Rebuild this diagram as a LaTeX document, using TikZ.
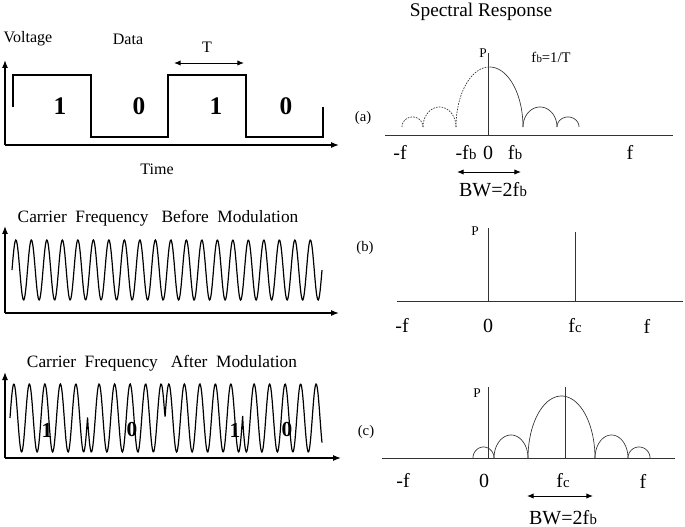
\documentclass[tikz,border=0pt]{standalone}
\usepackage{fontspec}
\setmainfont{Liberation Serif}
\usetikzlibrary{arrows.meta}
\newcommand\myfb{f\kern0.2pt\scalebox{0.74}{b}}
\newcommand\myfc{f\kern0.2pt\scalebox{0.74}{c}}
\newcommand\lobe[5]{\draw[#5] plot[domain=0:180,samples=40] ({#1+(#2-#1)/2*(1-cos(\x))},{#3-#4*sin(\x)});}
\begin{document}
\begin{tikzpicture}[x=0.75pt,y=-0.75pt,
  lbl/.style={inner sep=0pt,font=\fontsize{12}{14}\selectfont},
  title/.style={inner sep=0pt,font=\fontsize{13}{15}\selectfont},
  tick/.style={inner sep=0pt,anchor=base,font=\fontsize{15}{17}\selectfont},
  small/.style={inner sep=0pt,font=\fontsize{10}{12}\selectfont},
  bit/.style={inner sep=0pt,font=\fontsize{19}{21}\selectfont\bfseries},
  bitc/.style={inner sep=0pt,font=\fontsize{16}{18}\selectfont\bfseries},
  axis/.style={line width=0.9pt,-{Latex[length=6pt,width=4.5pt]}},
  wave/.style={line width=0.9pt},
  spec/.style={line width=0.5pt,black!80},
  dsh/.style={line width=0.5pt,black!80,dash pattern=on 1.2pt off 0.9pt},
  dbl/.style={line width=0.7pt,{Latex[length=5pt,width=4pt]}-{Latex[length=5pt,width=4pt]}}]
\useasboundingbox (0,0) rectangle (685,527);

% ---------- (a) left: data ----------
\coordinate (aO) at (5,145);
\coordinate (aY) at (5,60);
\coordinate (aX) at (339,145);
\draw[axis] (aO) -- (aY);
\draw[axis] (aO) -- (aX);
\draw[wave] (13,107) -- (13,75) -- (91,75) -- (91,137) -- (168,137) -- (168,75)
  -- (246,75) -- (246,137) -- (323,137) -- (323,107);
\node[lbl] (volt) at (28,39) {Voltage};
\node[lbl] (data) at (128,39) {Data};
\node[lbl] (tlab) at (207,47) {T};
\coordinate (tL) at (174,63);
\coordinate (tR) at (244,63);
\draw[dbl] (tL) -- (tR);
\node[lbl] (time) at (157,169) {Time};
\node[bit] (b1) at (60,106) {1};
\node[bit] (b2) at (139,106) {0};
\node[bit] (b3) at (216,106) {1};
\node[bit] (b4) at (286,106) {0};

% ---------- (a) right: spectrum ----------
\node[inner sep=0pt,font=\fontsize{14.5}{16}\selectfont] (spr) at (481,12) {Spectral Response};
\coordinate (sa0) at (385,135);
\coordinate (sa1) at (673,135);
\draw[spec] (sa0) -- (sa1);
\coordinate (pa0) at (488,135);
\coordinate (pa1) at (488,53);
\draw[spec] (pa0) -- (pa1);
\node[small] (pa) at (483,53) {P};
\node[inner sep=0pt,font=\fontsize{11}{13}\selectfont] (fbT) at (551,57) {\myfb=1/T};
\node[small,font=\fontsize{11}{13}\selectfont] (la) at (363,118) {(a)};
\draw[dsh] plot[domain=0:90,samples=25] ({456+33.5*(1-cos(\x))},{127-60*sin(\x)});
\draw[spec] plot[domain=90:180,samples=25] ({456+33.5*(1-cos(\x))},{127-60*sin(\x)});
\lobe{523}{557}{127}{20}{spec}
\lobe{557}{579}{127}{10}{spec}
\lobe{423}{456}{127}{20}{dsh}
\lobe{402}{423}{127}{10}{dsh}
\node[tick] (ta1) at (400,160) {-f};
\node[tick] (ta2) at (466,160) {-\myfb};
\node[tick] (ta3) at (488,160) {0};
\node[tick] (ta4) at (515,160) {\myfb};
\node[tick] (ta5) at (630,160) {f};
\coordinate (bwaL) at (457,172);
\coordinate (bwaR) at (521,172);
\draw[dbl] (bwaL) -- (bwaR);
\node[tick] (bwa) at (493,197) {BW=2\myfb};

% ---------- (b) left: carrier ----------
\node[title] (tb) at (158,218) {Carrier\ \ Frequency\ \ \ Before\ \ Modulation};
\coordinate (bO) at (5,313);
\coordinate (bY) at (5,226);
\coordinate (bX) at (339,313);
\draw[axis] (bO) -- (bY);
\draw[axis] (bO) -- (bX);
\draw[wave] plot[domain=12:322,samples=500] (\x,{270-30*sin(23.2258*(\x-12))});

% ---------- (b) right ----------
\node[small,font=\fontsize{11}{13}\selectfont] (lb) at (365,248) {(b)};
\coordinate (sb0) at (397,301);
\coordinate (sb1) at (683,301);
\draw[spec] (sb0) -- (sb1);
\coordinate (pb0) at (488,301);
\coordinate (pb1) at (488,228);
\draw[spec] (pb0) -- (pb1);
\coordinate (fb0) at (575,301);
\coordinate (fb1) at (575,232);
\draw[spec] (fb0) -- (fb1);
\node[small] (pb) at (475,231) {P};
\node[tick] (tb1) at (402,332) {-f};
\node[tick] (tb2) at (488,332) {0};
\node[tick] (tb3) at (575,332) {\myfc};
\node[tick] (tb4) at (647,333) {f};

% ---------- (c) left: modulated ----------
\node[title] (tc) at (162,363) {Carrier\ \ Frequency\ \ \ After\ \ Modulation};
\coordinate (cO) at (5,458);
\coordinate (cY) at (5,372);
\coordinate (cX) at (341,458);
\draw[axis] (cO) -- (cY);
\draw[axis] (cO) -- (cX);
\draw[wave] plot[domain=10:322,samples=520]
  (\x,{418-34*sin(23.2258*(\x-10))*((\x<88)-(\x>=88)*(\x<165)+(\x>=165)*(\x<243)-(\x>=243))});
\node[bitc] (c1) at (47,430) {1};
\node[bitc] (c2) at (132,430) {0};
\node[bitc] (c3) at (235,430) {1};
\node[bitc] (c4) at (287,430) {0};

% ---------- (c) right ----------
\node[small,font=\fontsize{11}{13}\selectfont] (lc) at (366,432) {(c)};
\coordinate (sc0) at (382,458);
\coordinate (sc1) at (675,458);
\draw[spec] (sc0) -- (sc1);
\coordinate (pc0) at (488,458);
\coordinate (pc1) at (488,387);
\draw[spec] (pc0) -- (pc1);
\coordinate (fcc0) at (565,458);
\coordinate (fcc1) at (565,387);
\draw[spec] (fcc0) -- (fcc1);
\node[small] (pcl) at (477,393) {P};
\lobe{528}{595}{458}{62}{spec}
\lobe{595}{628}{458}{23}{spec}
\lobe{628}{650}{458}{11}{spec}
\lobe{494}{528}{458}{23}{spec}
\lobe{473}{494}{458}{11}{spec}
\node[tick] (tc1) at (403,487) {-f};
\node[tick] (tc2) at (484,487) {0};
\node[tick] (tc3) at (563,487) {\myfc};
\node[tick] (tc4) at (643,488) {f};
\coordinate (bwcL) at (527,496);
\coordinate (bwcR) at (593,496);
\draw[dbl] (bwcL) -- (bwcR);
\node[tick] (bwc) at (563,524) {BW=2\myfb};
\end{tikzpicture}
\end{document}
